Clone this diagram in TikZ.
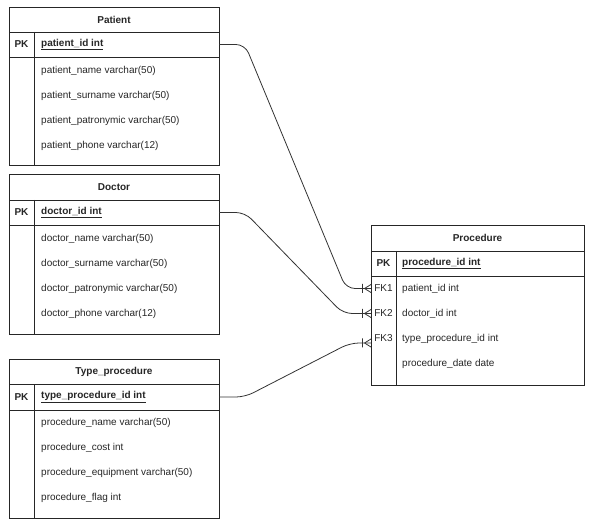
\documentclass[tikz,border=0pt]{standalone}
\usepackage{fontspec}
\setmainfont{Liberation Sans}

\tikzset{
  tbl/.style={draw=black!85, line width=0.8pt, inner sep=0pt, outer sep=0pt},
  title/.style={font=\bfseries\fontsize{10}{12}\selectfont, text=black!85},
  key/.style={font=\fontsize{10}{12}\selectfont, text=black!85},
  field/.style={anchor=west, inner sep=0pt, font=\fontsize{10}{12}\selectfont, text=black!85},
  link/.style={draw=black!80, line width=0.8pt, rounded corners=9pt},
  crowfoot/.pic={
    \draw[draw=black!80, line width=0.8pt] (-8.5,-4.5) -- (-8.5,4.5)
      (-6.5,0) -- (0,-4) (-6.5,0) -- (0,4);
  }
}

\begin{document}
\begin{tikzpicture}[x=1pt, y=-1pt]
\useasboundingbox (0,0) rectangle (589,526);

% Patient
\node[tbl, minimum width=210pt, minimum height=158pt, anchor=north west] (patient) at (9,7) {};
\draw[tbl] (9,32) -- (219,32);
\draw[tbl] (9,57) -- (219,57);
\draw[tbl] (34,32) -- (34,165);
\node[title] (patient-title) at (114,19.5) {Patient};
\node[key, font=\bfseries\fontsize{10}{12}\selectfont] (patient-pk) at (21.5,44.5) {PK};
\node[field] (patient-id) at (41,44.5) {\bfseries\underline{patient\_id int}};
\node[field] (patient-name) at (41,70.5) {patient\_name varchar(50)};
\node[field] (patient-surname) at (41,95.5) {patient\_surname varchar(50)};
\node[field] (patient-patr) at (41,120.5) {patient\_patronymic varchar(50)};
\node[field] (patient-phone) at (41,145.5) {patient\_phone varchar(12)};

% Doctor
\node[tbl, minimum width=210pt, minimum height=160pt, anchor=north west] (doctor) at (9,174) {};
\draw[tbl] (9,200) -- (219,200);
\draw[tbl] (9,225.5) -- (219,225.5);
\draw[tbl] (34,200) -- (34,334);
\node[title] (doctor-title) at (114,187) {Doctor};
\node[key, font=\bfseries\fontsize{10}{12}\selectfont] (doctor-pk) at (21.5,212.5) {PK};
\node[field] (doctor-id) at (41,212.5) {\bfseries\underline{doctor\_id int}};
\node[field] (doctor-name) at (41,238.5) {doctor\_name varchar(50)};
\node[field] (doctor-surname) at (41,263.5) {doctor\_surname varchar(50)};
\node[field] (doctor-patr) at (41,288.5) {doctor\_patronymic varchar(50)};
\node[field] (doctor-phone) at (41,313.5) {doctor\_phone varchar(12)};

% Type_procedure
\node[tbl, minimum width=210pt, minimum height=159pt, anchor=north west] (type) at (9,359) {};
\draw[tbl] (9,384.5) -- (219,384.5);
\draw[tbl] (9,410) -- (219,410);
\draw[tbl] (34,384.5) -- (34,518);
\node[title] (type-title) at (114,371.5) {Type\_procedure};
\node[key, font=\bfseries\fontsize{10}{12}\selectfont] (type-pk) at (21.5,397) {PK};
\node[field] (type-id) at (41,397) {\bfseries\underline{type\_procedure\_id int}};
\node[field] (type-name) at (41,423) {procedure\_name varchar(50)};
\node[field] (type-cost) at (41,448) {procedure\_cost int};
\node[field] (type-equip) at (41,473) {procedure\_equipment varchar(50)};
\node[field] (type-flag) at (41,498) {procedure\_flag int};

% Procedure
\node[tbl, minimum width=213pt, minimum height=160pt, anchor=north west] (procedure) at (371,225) {};
\draw[tbl] (371,251) -- (584,251);
\draw[tbl] (371,276) -- (584,276);
\draw[tbl] (396,251) -- (396,385);
\node[title] (proc-title) at (477.5,238) {Procedure};
\node[key, font=\bfseries\fontsize{10}{12}\selectfont] (proc-pk) at (383.5,263.5) {PK};
\node[field] (proc-id) at (402,263.5) {\bfseries\underline{procedure\_id int}};
\node[key] (proc-fk1) at (383.5,288.5) {FK1};
\node[key] (proc-fk2) at (383.5,313.5) {FK2};
\node[key] (proc-fk3) at (383.5,338.5) {FK3};
\node[field] (proc-patient) at (402,288.5) {patient\_id int};
\node[field] (proc-doctor) at (402,313.5) {doctor\_id int};
\node[field] (proc-type) at (402,338.5) {type\_procedure\_id int};
\node[field] (proc-date) at (402,364) {procedure\_date date};

% links
\draw[link] (patient.east |- patient-id) -- ++(26,0)
  -- ([xshift=-25pt]procedure.west |- proc-fk1) -- (procedure.west |- proc-fk1);
\draw[link] (doctor.east |- doctor-id) -- ++(26,0)
  -- ([xshift=-28pt]procedure.west |- proc-fk2) -- (procedure.west |- proc-fk2);
\draw[link] (type.east |- type-id) -- ++(26,0)
  -- ([xshift=-21pt,yshift=-4.5pt]procedure.west |- proc-fk3) -- ([yshift=-4.5pt]procedure.west |- proc-fk3);

\pic at (procedure.west |- proc-fk1) {crowfoot};
\pic at (procedure.west |- proc-fk2) {crowfoot};
\pic at ([yshift=-4.5pt]procedure.west |- proc-fk3) {crowfoot};

\end{tikzpicture}
\end{document}
